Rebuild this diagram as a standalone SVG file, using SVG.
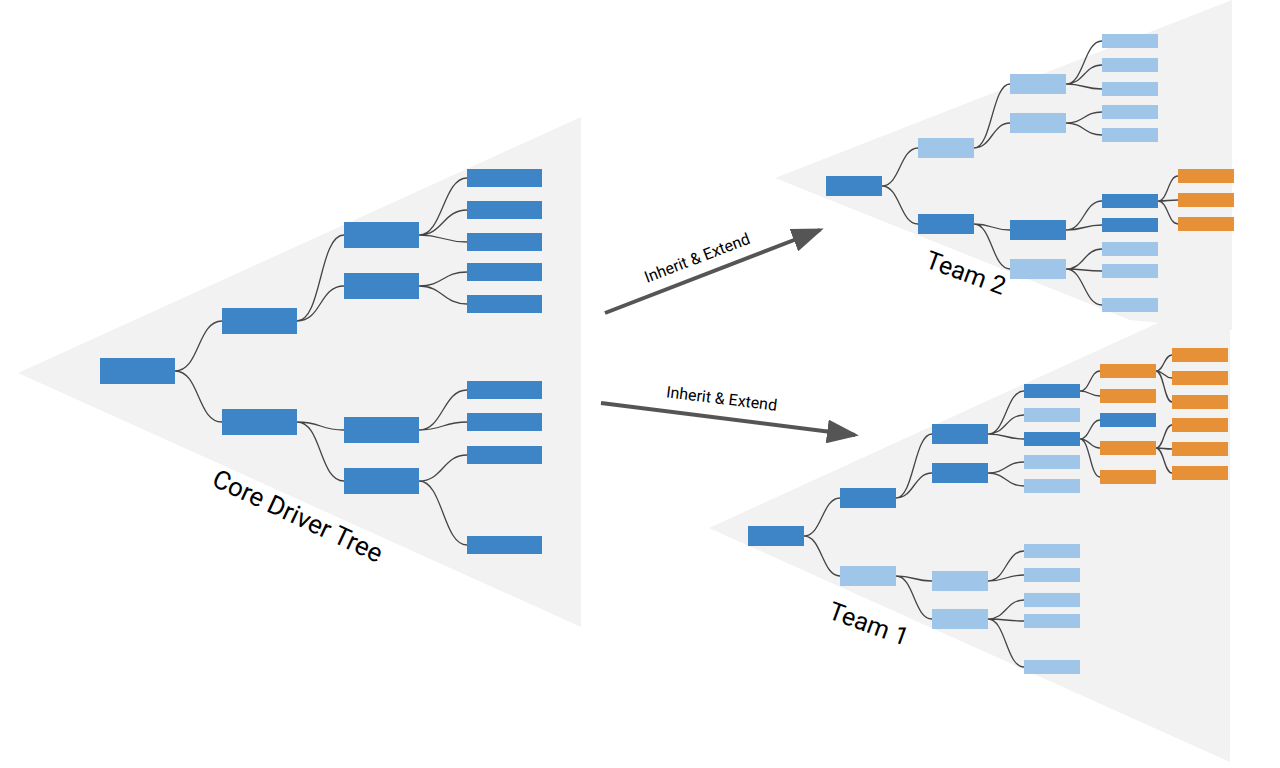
<svg xmlns="http://www.w3.org/2000/svg" width="1280" height="768" viewBox="0 0 1280 768">
<style>
.bg{fill:#f2f2f2}
.d{fill:#3d85c6}
.l{fill:#9fc5e8}
.o{fill:#e69138}
.c path{fill:none;stroke:#444;stroke-width:1.3}
.t{font-family:Roboto,"Liberation Sans",sans-serif;fill:#000}
</style>
<defs><marker id="ah" markerWidth="8" markerHeight="6" refX="7" refY="3" orient="auto" markerUnits="strokeWidth"><path d="M0,0L8,3L0,6z" fill="#555"/></marker></defs>
<polygon class="bg" points="18,373 581,117 581,627"/>
<polygon class="bg" points="775,178 1232,0 1232,330 1130,320"/>
<polygon class="bg" points="709,528 1230,290 1230,762"/>
<g class="c" id="connectors">
<path d="M175,371C200,371 197,321 222,321M175,371C200,371 197,422 222,422M297,321C322,321 319,235 344,235M297,321C322,321 319,286 344,286M297,422C322,422 319,430 344,430M297,422C322,422 319,481 344,481M419,235C443,235 443,178 467,178M419,235C443,235 443,210 467,210M419,235C443,235 443,242 467,242M419,286C443,286 443,272 467,272M419,286C443,286 443,304 467,304M419,430C443,430 443,390 467,390M419,430C443,430 443,422 467,422M419,481C443,481 443,455 467,455M419,481C443,481 443,545 467,545"/>
<path d="M882,186C900,186 900,148 918,148M882,186C900,186 900,224 918,224M974,148C992,148 992,84 1010,84M974,148C992,148 992,123 1010,123M974,224C992,224 992,230 1010,230M974,224C992,224 992,269 1010,269M1066,84C1084,84 1084,41 1102,41M1066,84C1084,84 1084,65 1102,65M1066,84C1084,84 1084,89 1102,89M1066,123C1084,123 1084,112 1102,112M1066,123C1084,123 1084,135 1102,135M1066,230C1084,230 1084,201 1102,201M1066,230C1084,230 1084,225 1102,225M1066,269C1084,269 1084,249 1102,249M1066,269C1084,269 1084,271 1102,271M1066,269C1084,269 1084,305 1102,305M1158,201C1168,201 1168,176 1178,176M1158,201C1168,201 1168,200 1178,200M1158,201C1168,201 1168,224 1178,224"/>
<path d="M804,536C822,536 822,498 840,498M804,536C822,536 822,576 840,576M896,498C914,498 914,434 932,434M896,498C914,498 914,473 932,473M896,576C914,576 914,581 932,581M896,576C914,576 914,619 932,619M988,434C1006,434 1006,391 1024,391M988,434C1006,434 1006,415 1024,415M988,434C1006,434 1006,439 1024,439M988,473C1006,473 1006,462 1024,462M988,473C1006,473 1006,486 1024,486M988,581C1006,581 1006,551 1024,551M988,581C1006,581 1006,575 1024,575M988,619C1006,619 1006,600 1024,600M988,619C1006,619 1006,621 1024,621M988,619C1006,619 1006,667 1024,667M1080,391C1090,391 1090,371 1100,371M1080,391C1090,391 1090,396 1100,396M1080,439C1090,439 1090,420 1100,420M1080,439C1090,439 1090,448 1100,448M1080,439C1090,439 1090,477 1100,477M1156,371C1164,371 1164,355 1172,355M1156,371C1164,371 1164,378 1172,378M1156,371C1164,371 1164,402 1172,402M1156,448C1164,448 1164,425 1172,425M1156,448C1164,448 1164,449 1172,449M1156,448C1164,448 1164,473 1172,473"/>
<path d="M605,313L820,230" style="stroke:#555;stroke-width:4" marker-end="url(#ah)"/>
<path d="M601,403L855,435" style="stroke:#555;stroke-width:4" marker-end="url(#ah)"/>
</g>
<g id="core">
<rect class="d" x="100" y="358" width="75" height="26"/>
<rect class="d" x="222" y="308" width="75" height="26"/><rect class="d" x="222" y="409" width="75" height="26"/>
<rect class="d" x="344" y="222" width="75" height="26"/><rect class="d" x="344" y="273" width="75" height="26"/><rect class="d" x="344" y="417" width="75" height="26"/><rect class="d" x="344" y="468" width="75" height="26"/>
<rect class="d" x="467" y="169" width="75" height="18"/><rect class="d" x="467" y="201" width="75" height="18"/><rect class="d" x="467" y="233" width="75" height="18"/><rect class="d" x="467" y="263" width="75" height="18"/><rect class="d" x="467" y="295" width="75" height="18"/><rect class="d" x="467" y="381" width="75" height="18"/><rect class="d" x="467" y="413" width="75" height="18"/><rect class="d" x="467" y="446" width="75" height="18"/><rect class="d" x="467" y="536" width="75" height="18"/>
<text class="t" font-size="26" transform="translate(294,524) rotate(25)" text-anchor="middle">Core Driver Tree</text>
</g>
<g id="team2">
<rect class="d" x="826" y="176" width="56" height="20"/>
<rect class="l" x="918" y="138" width="56" height="20"/><rect class="d" x="918" y="214" width="56" height="20"/>
<rect class="l" x="1010" y="74" width="56" height="20"/><rect class="l" x="1010" y="113" width="56" height="20"/><rect class="d" x="1010" y="220" width="56" height="20"/><rect class="l" x="1010" y="259" width="56" height="20"/>
<rect class="l" x="1102" y="34" width="56" height="14"/><rect class="l" x="1102" y="58" width="56" height="14"/><rect class="l" x="1102" y="82" width="56" height="14"/><rect class="l" x="1102" y="105" width="56" height="14"/><rect class="l" x="1102" y="128" width="56" height="14"/><rect class="d" x="1102" y="194" width="56" height="14"/><rect class="d" x="1102" y="218" width="56" height="14"/><rect class="l" x="1102" y="242" width="56" height="14"/><rect class="l" x="1102" y="264" width="56" height="14"/><rect class="l" x="1102" y="298" width="56" height="14"/>
<rect class="o" x="1178" y="169" width="56" height="14"/><rect class="o" x="1178" y="193" width="56" height="14"/><rect class="o" x="1178" y="217" width="56" height="14"/>
<text class="t" font-size="25" transform="translate(963,281) rotate(20)" text-anchor="middle">Team 2</text>
</g>
<g id="team1">
<rect class="d" x="748" y="526" width="56" height="20"/>
<rect class="d" x="840" y="488" width="56" height="20"/><rect class="l" x="840" y="566" width="56" height="20"/>
<rect class="d" x="932" y="424" width="56" height="20"/><rect class="d" x="932" y="463" width="56" height="20"/><rect class="l" x="932" y="571" width="56" height="20"/><rect class="l" x="932" y="609" width="56" height="20"/>
<rect class="d" x="1024" y="384" width="56" height="14"/><rect class="l" x="1024" y="408" width="56" height="14"/><rect class="d" x="1024" y="432" width="56" height="14"/><rect class="l" x="1024" y="455" width="56" height="14"/><rect class="l" x="1024" y="479" width="56" height="14"/><rect class="l" x="1024" y="544" width="56" height="14"/><rect class="l" x="1024" y="568" width="56" height="14"/><rect class="l" x="1024" y="593" width="56" height="14"/><rect class="l" x="1024" y="614" width="56" height="14"/><rect class="l" x="1024" y="660" width="56" height="14"/>
<rect class="o" x="1100" y="364" width="56" height="14"/><rect class="o" x="1100" y="389" width="56" height="14"/><rect class="d" x="1100" y="413" width="56" height="14"/><rect class="o" x="1100" y="441" width="56" height="14"/><rect class="o" x="1100" y="470" width="56" height="14"/>
<rect class="o" x="1172" y="348" width="56" height="14"/><rect class="o" x="1172" y="371" width="56" height="14"/><rect class="o" x="1172" y="395" width="56" height="14"/><rect class="o" x="1172" y="418" width="56" height="14"/><rect class="o" x="1172" y="442" width="56" height="14"/><rect class="o" x="1172" y="466" width="56" height="14"/>
<text class="t" font-size="25" transform="translate(866,632) rotate(20)" text-anchor="middle">Team 1</text>
</g>
<g id="labels">
<text class="t" font-size="16" transform="translate(699,263) rotate(-21)" text-anchor="middle">Inherit &amp; Extend</text>
<text class="t" font-size="16" transform="translate(721,404) rotate(7)" text-anchor="middle">Inherit &amp; Extend</text>
</g>
</svg>
